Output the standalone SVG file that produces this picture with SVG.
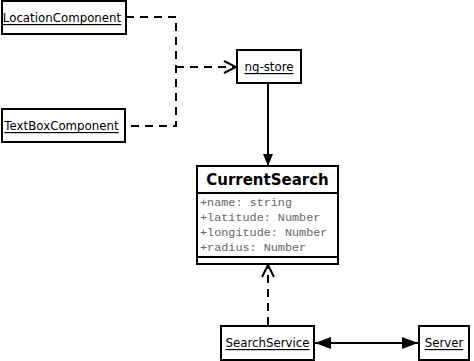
<svg xmlns="http://www.w3.org/2000/svg" width="474" height="361" viewBox="0 0 474 361">
<style>
.box{fill:#fff;stroke:#000;stroke-width:2}
.lbl{font-family:"DejaVu Sans",sans-serif;font-size:11.8px;fill:#000;text-decoration:underline;text-decoration-color:#777;text-anchor:middle;dominant-baseline:central}
.title{font-family:"DejaVu Sans",sans-serif;font-size:15px;font-weight:bold;fill:#000;text-anchor:middle;dominant-baseline:central}
.attr{font-family:"Liberation Mono","DejaVu Sans Mono",monospace;font-size:11.8px;fill:#666;dominant-baseline:central}
.dash{fill:none;stroke:#000;stroke-width:2;stroke-dasharray:8 6}
.solid{fill:none;stroke:#000;stroke-width:2}
</style>
<defs>
<marker id="open" viewBox="0 0 14 14" refX="13" refY="7" markerWidth="14" markerHeight="14" markerUnits="userSpaceOnUse" orient="auto">
<path d="M1,1 L13,7 L1,13" fill="none" stroke="#000" stroke-width="2"/>
</marker>
<marker id="filled" viewBox="0 0 16 12" refX="16" refY="6" markerWidth="16" markerHeight="12" markerUnits="userSpaceOnUse" orient="auto-start-reverse">
<path d="M0,0 L16,6 L0,12 Z" fill="#000"/>
</marker>
<marker id="filledsm" viewBox="0 0 12 10" refX="12" refY="5" markerWidth="12" markerHeight="10" markerUnits="userSpaceOnUse" orient="auto">
<path d="M0,0 L12,5 L0,10 Z" fill="#000"/>
</marker>
</defs>
<g id="connectors">
<path class="dash" d="M126,17 H176 V126 H125"/>
<path class="dash" d="M176,67 H236" marker-end="url(#open)"/>
<path class="solid" d="M268,83 V166" marker-end="url(#filledsm)"/>
<path class="dash" d="M268,325 V265" marker-end="url(#open)"/>
<path class="solid" d="M315,343 H418" marker-start="url(#filled)" marker-end="url(#filled)"/>
</g>
<g id="LocationComponent">
<rect class="box" x="2" y="1" width="124" height="33"/>
<text class="lbl" x="62" y="18">LocationComponent</text>
</g>
<g id="TextBoxComponent">
<rect class="box" x="2" y="109" width="123" height="33"/>
<text class="lbl" x="61.5" y="126">TextBoxComponent</text>
</g>
<g id="ng-store">
<rect class="box" x="237" y="50" width="64" height="33"/>
<text class="lbl" x="269" y="67">ng-store</text>
</g>
<g id="CurrentSearch">
<rect class="box" x="197" y="166" width="141" height="98"/>
<line class="solid" x1="197" y1="193" x2="338" y2="193"/>
<line class="solid" x1="197" y1="257" x2="338" y2="257"/>
<text class="title" x="267.5" y="180">CurrentSearch</text>
<text class="attr" x="200" y="203">+name: string</text>
<text class="attr" x="200" y="218">+latitude: Number</text>
<text class="attr" x="200" y="233">+longitude: Number</text>
<text class="attr" x="200" y="248">+radius: Number</text>
</g>
<g id="SearchService">
<rect class="box" x="221" y="326" width="93" height="34"/>
<text class="lbl" x="267.5" y="343">SearchService</text>
</g>
<g id="Server">
<rect class="box" x="419" y="326" width="50" height="34"/>
<text class="lbl" x="444" y="343">Server</text>
</g>
</svg>
